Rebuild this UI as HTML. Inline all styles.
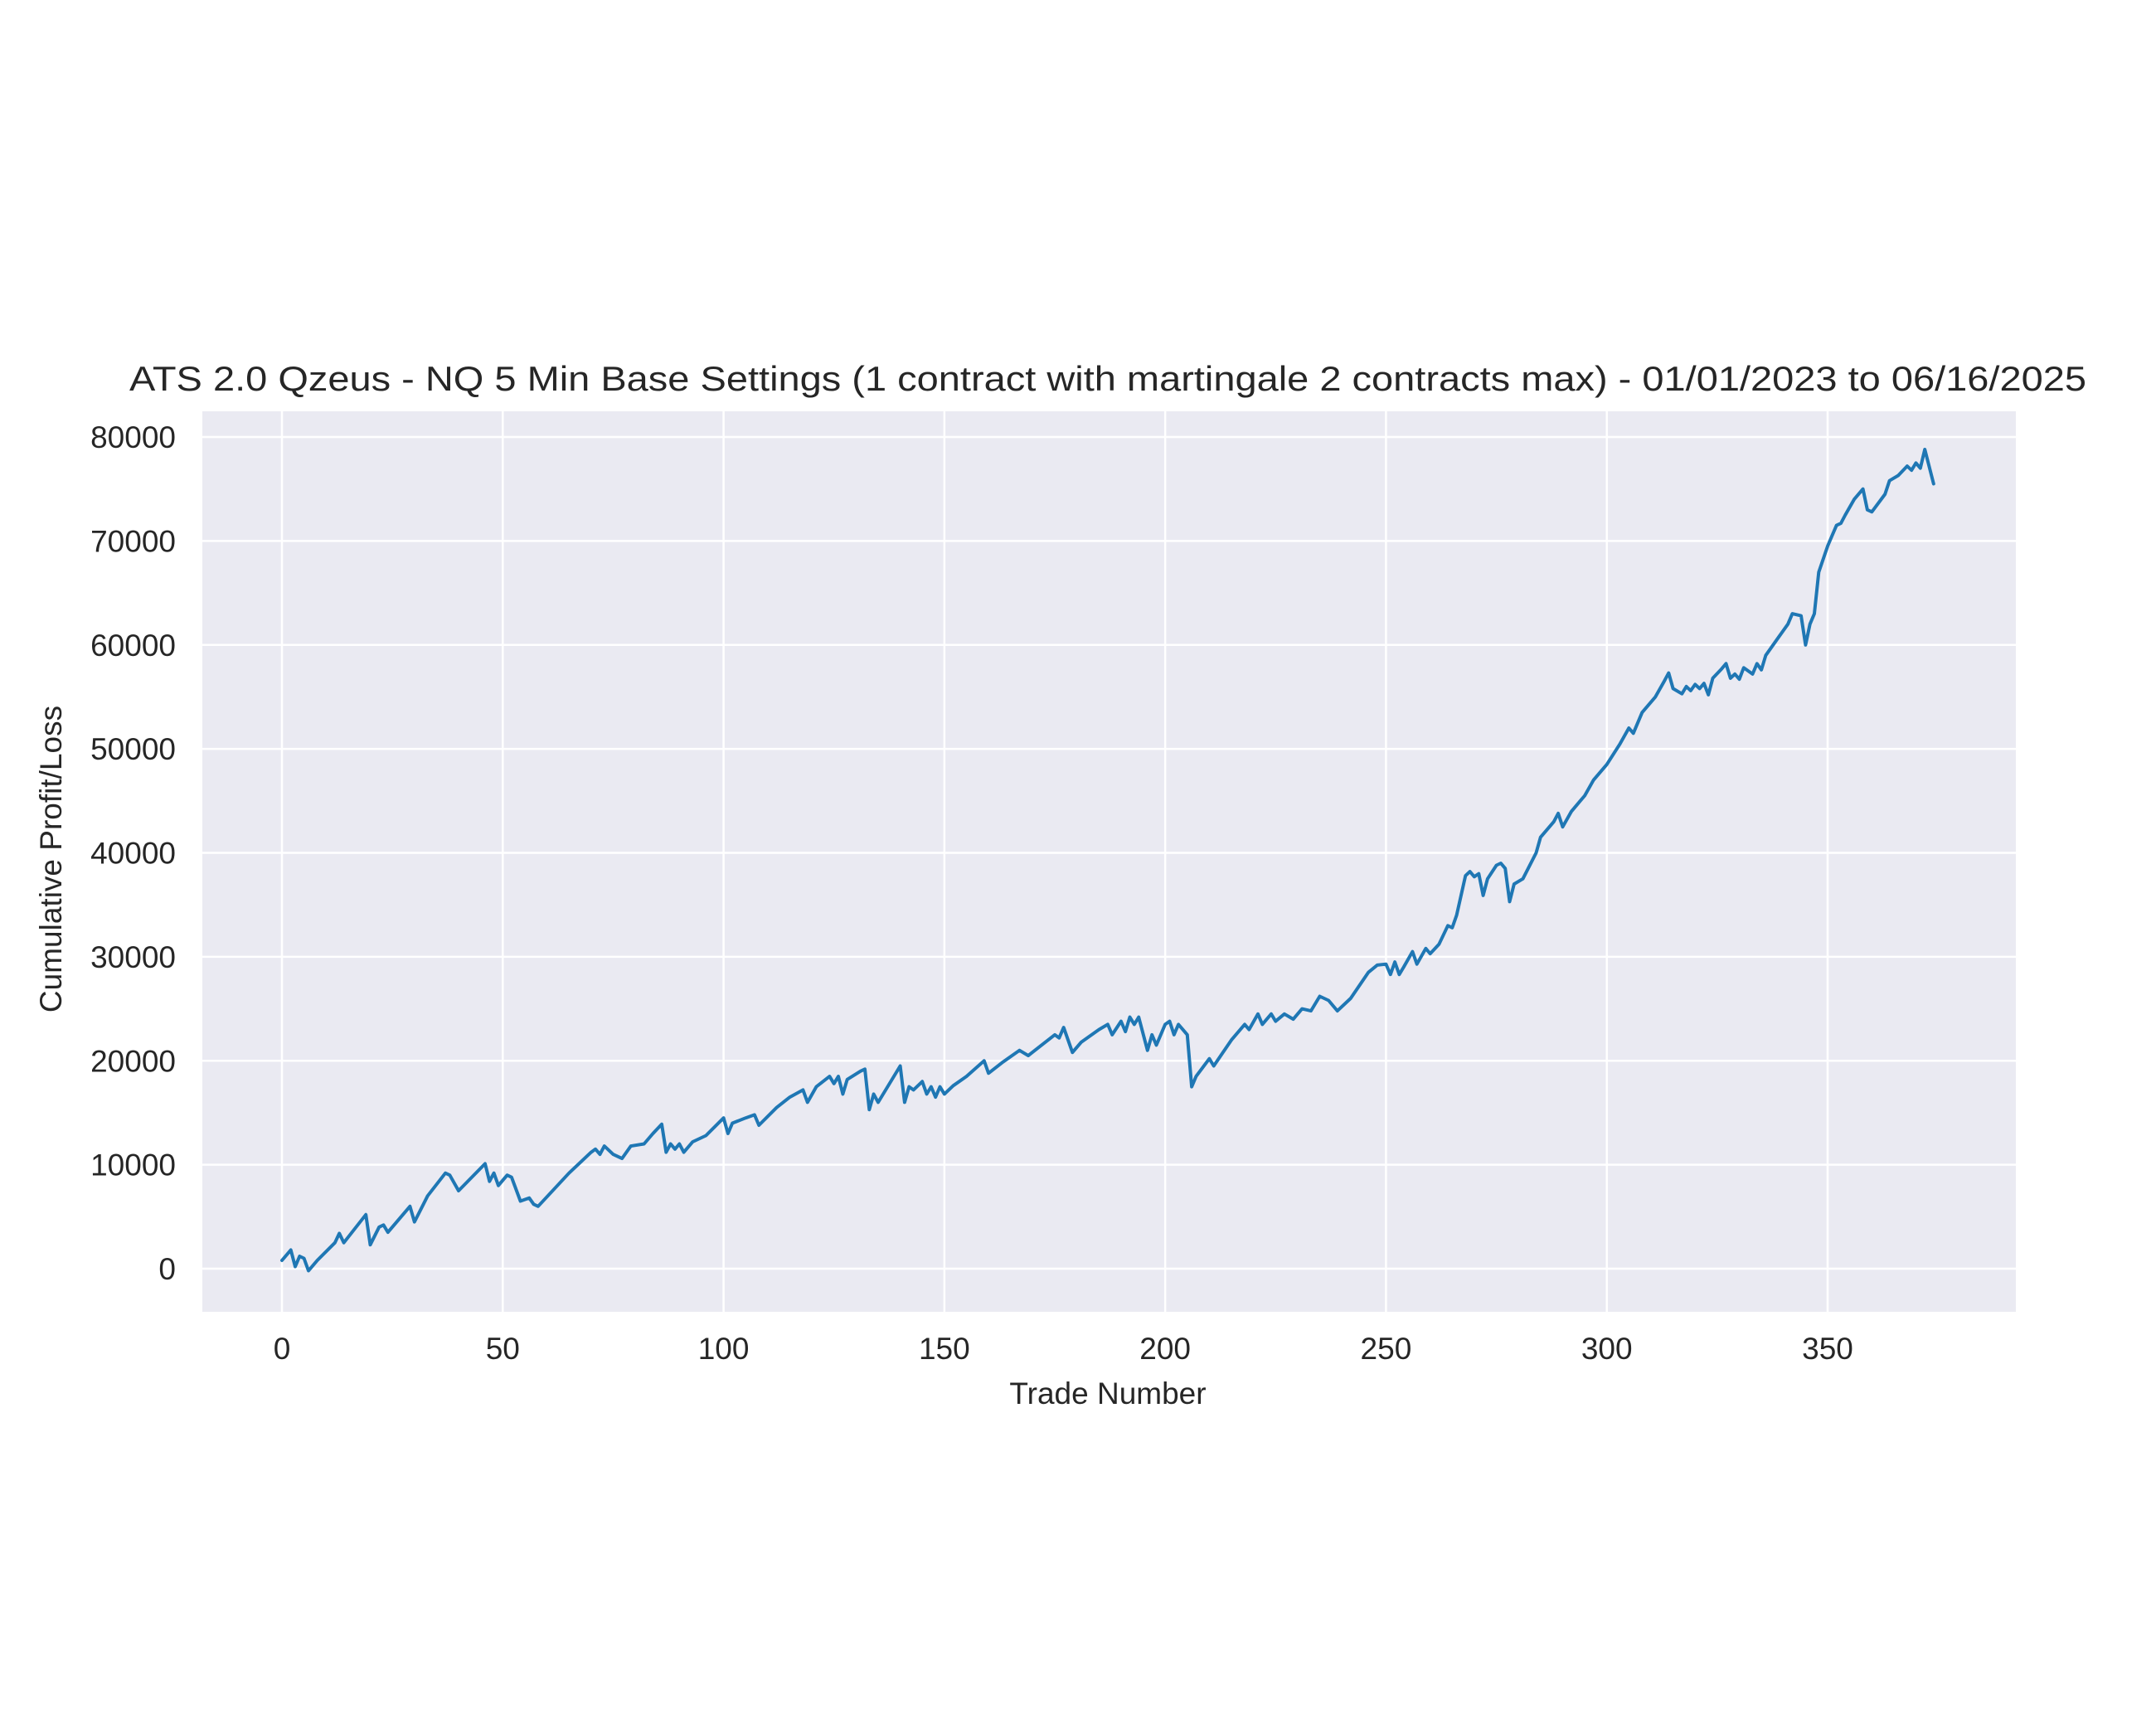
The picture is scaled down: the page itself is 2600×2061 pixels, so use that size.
<!DOCTYPE html>
<html><head><meta charset="utf-8"><style>
html,body{margin:0;padding:0;background:#fff;}
svg{display:block;font-family:"Liberation Sans",Arial,sans-serif;}
</style></head><body>
<svg id="chart" width="2600" height="2061" viewBox="0 0 2600 2061" xmlns="http://www.w3.org/2000/svg">
<rect width="2600" height="2061" fill="#fff"/>
<text x="1336" y="471" font-size="42" fill="#262626" text-anchor="middle" textLength="2360" lengthAdjust="spacingAndGlyphs">ATS 2.0 Qzeus - NQ 5 Min Base Settings (1 contract with martingale 2 contracts max) - 01/01/2023 to 06/16/2025</text>
<rect x="244" y="496" width="2187" height="1086" fill="#eaeaf2"/>
<g id="grid"></g>
<g id="ticks"></g>
<path id="line" fill="none" stroke="#1f77b4" stroke-width="4" stroke-linejoin="round" stroke-linecap="round"/>
<text x="1336" y="1693" font-size="37" fill="#262626" text-anchor="middle">Trade Number</text>
<text transform="translate(74,1036) rotate(-90)" font-size="37" fill="#262626" text-anchor="middle">Cumulative Profit/Loss</text>
</svg>
<script>
const xTicks = [0,50,100,150,200,250,300,350];
const yTicks = [0,10000,20000,30000,40000,50000,60000,70000,80000];
const trades = [0,2,3,4,5,6,8,12,13,14,19,20,22,23,24,29,30,33,37,38,40,46,47,48,49,51,52,54,56,57,58,65,70,71,72,73,75,77,79,82,84,86,87,88,89,90,91,93,96,100,101,102,105,107,108,112,115,118,119,121,124,125,126,127,128,131,132,133,134,135,140,141,142,143,145,146,147,148,149,150,152,155,159,160,163,167,169,172,175,176,177,179,181,185,187,188,190,191,192,193,194,196,197,198,200,201,202,203,204,205,206,207,210,211,215,218,219,221,222,224,225,227,229,231,233,235,237,239,242,246,248,250,251,252,253,254,256,257,259,260,262,264,265,266,268,269,270,271,272,273,275,276,277,278,279,281,284,285,288,289,290,292,295,297,300,303,305,306,308,311,313,314,315,317,318,319,320,321,322,323,324,326,327,328,329,330,331,333,334,335,336,339,341,342,344,345,346,347,348,350,351,352,353,354,356,358,359,360,363,364,366,368,369,370,371,372,374];
const pnl = [800,1800,200,1200,1000,-200,800,2500,3400,2500,5200,2300,4000,4200,3500,6000,4500,7000,9200,9000,7500,10100,8400,9200,8000,9000,8800,6500,6800,6200,6000,9200,11200,11500,11000,11800,11000,10600,11800,12000,13000,13900,11200,12000,11500,12000,11200,12200,12800,14500,13000,14000,14500,14800,13800,15500,16500,17200,16000,17500,18500,17800,18500,16800,18200,19000,19200,15300,16800,16000,19500,16000,17500,17200,18000,16800,17500,16500,17500,16800,17600,18500,20000,18800,19800,21000,20500,21500,22500,22200,23200,20800,21800,23000,23500,22500,23800,22800,24200,23500,24200,21000,22500,21500,23500,23800,22500,23500,23000,22500,17500,18500,20200,19500,22000,23500,23000,24500,23500,24500,23800,24500,24000,25000,24800,26200,25800,24800,26000,28500,29200,29300,28300,29500,28300,29000,30500,29300,30800,30300,31200,33000,32800,34000,37800,38200,37700,38000,35900,37500,38800,39000,38500,35300,37000,37500,40000,41500,43000,43800,42500,44000,45500,47000,48500,50500,52000,51500,53500,55000,56500,57300,55800,55300,56000,55600,56200,55800,56300,55200,56800,57700,58200,56800,57200,56700,57800,57200,58200,57600,59000,60800,62000,63000,62800,60000,62000,63000,67000,69500,70500,71500,71700,72500,74000,75000,73000,72800,74500,75800,76300,77200,76800,77500,77000,78800,75500];

const PL=244, PR=2431, PT=496, PB=1582;
const X0=340, XS=(2204-340)/350;
const Y0=1530, YS=(1530-527)/80000;
function xPos(v){return X0+v*XS;}
function yPos(v){return Y0-v*YS;}
const NS="http://www.w3.org/2000/svg";
const grid=document.getElementById('grid'), ticks=document.getElementById('ticks');
xTicks.forEach(t=>{
  const l=document.createElementNS(NS,'line');
  l.setAttribute('x1',xPos(t));l.setAttribute('x2',xPos(t));l.setAttribute('y1',PT);l.setAttribute('y2',PB);
  l.setAttribute('stroke','#fff');l.setAttribute('stroke-width','2.5');
  
  
  grid.appendChild(l);
  const tx=document.createElementNS(NS,'text');
  tx.setAttribute('x',xPos(t));tx.setAttribute('y',1639);tx.setAttribute('font-size','37');
  tx.setAttribute('fill','#262626');tx.setAttribute('text-anchor','middle');
  tx.textContent=t;
  
  
  ticks.appendChild(tx);
});
yTicks.forEach(t=>{
  const l=document.createElementNS(NS,'line');
  l.setAttribute('x1',PL);l.setAttribute('x2',PR);l.setAttribute('y1',yPos(t));l.setAttribute('y2',yPos(t));
  l.setAttribute('stroke','#fff');l.setAttribute('stroke-width','2.5');
  
  
  grid.appendChild(l);
  const tx=document.createElementNS(NS,'text');
  tx.setAttribute('x',212);tx.setAttribute('y',yPos(t)+13);tx.setAttribute('font-size','37');
  tx.setAttribute('fill','#262626');tx.setAttribute('text-anchor','end');
  tx.textContent=t;
  
  
  ticks.appendChild(tx);
});
document.getElementById('line').setAttribute('d',
  trades.map((t,i)=>(i?'L':'M')+xPos(t).toFixed(1)+','+yPos(pnl[i]).toFixed(1)).join(' '));
</script>
</body></html>
